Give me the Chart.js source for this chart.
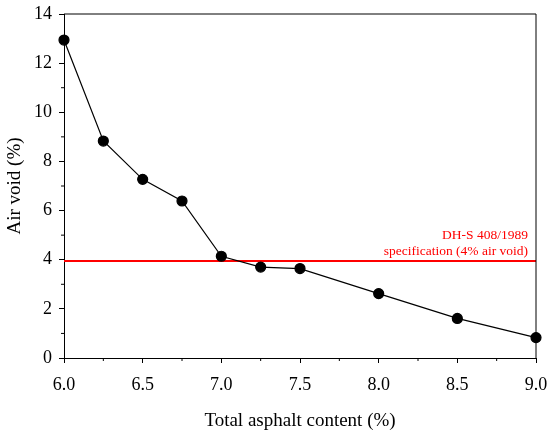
<!DOCTYPE html>
<html>
<head>
<meta charset="utf-8">
<script src="https://cdn.jsdelivr.net/npm/chart.js@4.4.1/dist/chart.umd.min.js"></script>
<style>
  html, body { margin: 0; padding: 0; background: #fff; }
  #wrap { width: 550px; height: 432px; }
</style>
</head>
<body>
<div id="wrap"><canvas id="voidChart" width="550" height="432"></canvas></div>
<script>
    // データ
    const asphaltContent = [6.0, 6.25, 6.5, 6.75, 7.0, 7.25, 7.5, 8.0, 8.5, 9.0];
    const airVoid = [12.94, 8.83, 7.27, 6.39, 4.14, 3.70, 3.64, 2.62, 1.61, 0.83];
    const specLimit = 3.95;
    const specLabel = ['DH-S 408/1989', 'specification (4% air void)'];

    const serif = '"Liberation Serif", "Times New Roman", serif';

    // 枠線・副目盛り・注記を描くプラグイン
    const framePlugin = {
        id: 'frame',
        afterDraw(chart) {
            const { ctx, chartArea: a, scales: { x, y } } = chart;
            ctx.save();
            ctx.strokeStyle = '#000';
            ctx.lineWidth = 1;
            ctx.beginPath();
            ctx.moveTo(a.left, a.top); ctx.lineTo(a.right, a.top);
            ctx.moveTo(a.right, a.top); ctx.lineTo(a.right, a.bottom);
            // 副目盛り
            for (let v = x.min + 0.25; v < x.max; v += 0.5) {
                const px = x.getPixelForValue(v);
                ctx.moveTo(px, a.bottom); ctx.lineTo(px, a.bottom + 3);
            }
            for (let v = y.min + 1; v < y.max; v += 2) {
                const py = y.getPixelForValue(v);
                ctx.moveTo(a.left, py); ctx.lineTo(a.left - 3, py);
            }
            ctx.stroke();
            // 注記
            ctx.fillStyle = '#ff0000';
            ctx.font = '13.5px ' + serif;
            ctx.textAlign = 'right';
            ctx.textBaseline = 'alphabetic';
            const py = y.getPixelForValue(specLimit);
            ctx.fillText(specLabel[0], a.right - 8, py - 22);
            ctx.fillText(specLabel[1], a.right - 8, py - 6);
            ctx.restore();
        }
    };

    const ctx = document.getElementById('voidChart').getContext('2d');
    new Chart(ctx, {
        type: 'scatter',
        data: {
            datasets: [{
                label: 'spec',
                data: [{ x: 6.0, y: specLimit }, { x: 9.0, y: specLimit }],
                showLine: true,
                borderColor: '#ff0000',
                borderWidth: 2,
                pointRadius: 0,
                order: 2
            }, {
                label: 'Air void',
                data: asphaltContent.map((v, i) => ({ x: v, y: airVoid[i] })),
                showLine: true,
                borderColor: '#000',
                borderWidth: 1.2,
                backgroundColor: '#000',
                pointRadius: 5,
                pointHoverRadius: 5,
                clip: false,
                order: 1
            }]
        },
        options: {
            responsive: false,
            animation: false,
            layout: { padding: { top: 14, right: 14, left: 0, bottom: 0 } },
            plugins: { legend: { display: false }, tooltip: { enabled: false } },
            scales: {
                x: {
                    type: 'linear',
                    min: 6.0, max: 9.0,
                    ticks: { stepSize: 0.5, color: '#000', font: { family: serif, size: 18 },
                             padding: 11, callback: v => v.toFixed(1) },
                    grid: { display: true, drawOnChartArea: false, drawTicks: true, tickLength: 5, tickColor: '#000' },
                    border: { color: '#000', width: 1 },
                    title: { display: true, text: 'Total asphalt content (%)', color: '#000',
                             font: { family: serif, size: 19 }, padding: 0 },
                    afterFit(scale) {
                        scale.height = 74;
                        scale.paddingLeft = 0;
                        scale.paddingRight = 0;
                    }
                },
                y: {
                    min: 0, max: 14,
                    ticks: { stepSize: 2, color: '#000', font: { family: serif, size: 18 }, padding: 7 },
                    grid: { display: true, drawOnChartArea: false, drawTicks: true, tickLength: 5, tickColor: '#000' },
                    border: { color: '#000', width: 1 },
                    title: { display: true, text: 'Air void (%)', color: '#000',
                             font: { family: serif, size: 19 }, padding: { bottom: 4 } },
                    afterFit(scale) {
                        scale.width = 64;
                        scale.paddingTop = 0;
                        scale.paddingBottom = 0;
                    }
                }
            }
        },
        plugins: [framePlugin]
    });
</script>
</body>
</html>
